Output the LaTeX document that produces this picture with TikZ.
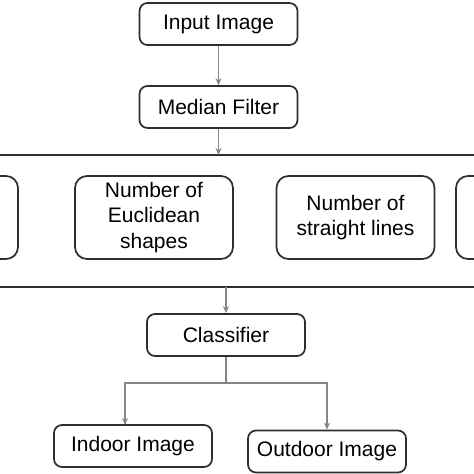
\documentclass[tikz,border=0pt]{standalone}
\usepackage{fontspec}
\setmainfont{Liberation Sans}
\usetikzlibrary{arrows.meta,positioning}
\definecolor{boxline}{HTML}{2E2E2E}
\definecolor{arrowgray}{HTML}{858585}
\begin{document}
\begin{tikzpicture}[x=1pt,y=-1pt,
  stepbox/.style={draw=boxline,line width=1.7pt,rounded corners=8pt,
    minimum width=158pt,minimum height=42pt,inner sep=0pt,
    font=\fontsize{21}{25.5}\selectfont,align=center},
  featbox/.style={stepbox,rounded corners=12pt,minimum height=83pt},
  conn/.style={draw=arrowgray,line width=1.3pt,-{Stealth[length=7pt,width=6pt]}},
  band/.style={draw=boxline,line width=1.7pt,minimum width=540pt,minimum height=132pt,inner sep=0pt}]
\useasboundingbox (0,0) rectangle (474,474);
\fill[white] (0,0) rectangle (474,474);
\node[band] (bnd) at (237,221) {};
\node[stepbox] (inp) at (218.5,24) {Input Image};
\node[stepbox] (med) at (218.5,107) {Median Filter};
\node[featbox] (lft) at (-61,217.5) {};
\node[featbox] (euc) at (154,217.5) {Number of\\Euclidean\\shapes};
\node[featbox] (str) at (355.5,217.5) {Number of\\straight lines};
\node[featbox] (rgt) at (535,217.5) {};
\node[stepbox] (cls) at (226,335) {Classifier};
\node[stepbox] (ind) at (133,446) {Indoor Image};
\node[stepbox] (out) at (327,451.5) {Outdoor Image};
\coordinate (bt) at (218.5,155);
\coordinate (bb) at (226,287);
\coordinate (sp) at (226,383);
\coordinate (ia) at (125,425);
\draw[conn] (inp) -- (med);
\draw[conn] (med) -- (bt);
\draw[conn] (bb) -- (cls);
\draw[conn] (cls.south) -- (sp) -| (ia);
\draw[conn] (sp) -| (out.north);
\end{tikzpicture}
\end{document}
